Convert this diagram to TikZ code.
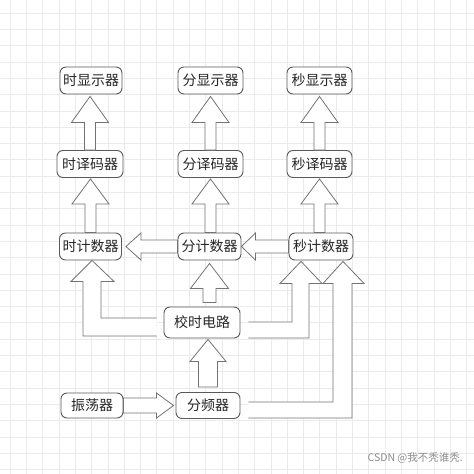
\documentclass[tikz,border=0pt]{standalone}
\usepackage{fontspec}
\setmainfont{Noto Sans CJK SC}
\usetikzlibrary{calc}
\tikzset{
  box/.style={draw=black!65, line width=0.9pt, rounded corners=6pt, fill=white,
    inner sep=0pt, text=black!85, font=\fontsize{14}{16}\selectfont},
  blk/.style={draw=black!55, line width=0.8pt, fill=white, line join=miter},
  gridline/.style={draw=black!8, line width=0.6pt},
}
% #1 x source, #2 tail, #3 tip, #4 tail gap, #5 tip gap, #6 shaft half, #7 head half, #8 head length
\newcommand\blkup[8]{%
  \draw[blk] let \p0=(#1),\p1=(#2),\p2=(#3) in
    (\x0-#6,\y1+#4) -- (\x0-#6,\y2-#5-#8) -- (\x0-#7,\y2-#5-#8) -- (\x0,\y2-#5)
    -- (\x0+#7,\y2-#5-#8) -- (\x0+#6,\y2-#5-#8) -- (\x0+#6,\y1+#4) -- cycle;}
% #1 tail, #2 tip, #3 tail gap, #4 tip gap, #5 shaft half, #6 head half, #7 head length
\newcommand\blkleft[7]{%
  \draw[blk] let \p1=(#1),\p2=(#2) in
    (\x1-#3,\y1+#5) -- (\x2+#4+#7,\y1+#5) -- (\x2+#4+#7,\y1+#6) -- (\x2+#4,\y1)
    -- (\x2+#4+#7,\y1-#6) -- (\x2+#4+#7,\y1-#5) -- (\x1-#3,\y1-#5) -- cycle;}
\newcommand\blkright[7]{%
  \draw[blk] let \p1=(#1),\p2=(#2) in
    (\x1+#3,\y1+#5) -- (\x2-#4-#7,\y1+#5) -- (\x2-#4-#7,\y1+#6) -- (\x2-#4,\y1)
    -- (\x2-#4-#7,\y1-#6) -- (\x2-#4-#7,\y1-#5) -- (\x1+#3,\y1-#5) -- cycle;}
\begin{document}
\begin{tikzpicture}[x=1pt,y=-1pt]
\useasboundingbox (0,0) rectangle (474,474);
\fill[white] (0,0) rectangle (474,474);
% grid
\foreach \k in {0,...,28} {
  \draw[gridline] ({10+16.3*\k},0) -- ({10+16.3*\k},474);
  \draw[gridline] (0,{13+16.3*\k}) -- (474,{13+16.3*\k});
}
% nodes
\node[box, minimum width=62pt, minimum height=27pt] (h3) at (91,80.5) {时显示器};
\node[box, minimum width=65pt, minimum height=27pt] (m3) at (210.5,80.5) {分显示器};
\node[box, minimum width=65pt, minimum height=27pt] (s3) at (319.5,80.5) {秒显示器};
\node[box, minimum width=66pt, minimum height=27pt] (h2) at (90,164) {时译码器};
\node[box, minimum width=65pt, minimum height=27pt] (m2) at (210.5,164) {分译码器};
\node[box, minimum width=65pt, minimum height=27pt] (s2) at (319.5,164) {秒译码器};
\node[box, minimum width=62pt, minimum height=27pt] (h1) at (90.5,246.5) {时计数器};
\node[box, minimum width=63pt, minimum height=27pt] (m1) at (209.5,246.5) {分计数器};
\node[box, minimum width=64pt, minimum height=27pt] (s1) at (321,246.5) {秒计数器};
\node[box, minimum width=76pt, minimum height=31pt] (jx) at (202,322.5) {校时电路};
\node[box, minimum width=62pt, minimum height=25pt] (zd) at (92,405.5) {振荡器};
\node[box, minimum width=64pt, minimum height=26pt] (fp) at (208,405.5) {分频器};
% column arrows
\blkup{h2.north}{h2.north}{h3.south}{0pt}{2pt}{5.5pt}{18.5pt}{26pt}
\blkup{h1.north}{h1.north}{h2.south}{0pt}{1pt}{5.5pt}{18.5pt}{25pt}
\blkup{m2.north}{m2.north}{m3.south}{0pt}{2pt}{5.5pt}{18.5pt}{26pt}
\blkup{m2.north}{m1.north}{m2.south}{0pt}{1pt}{5.5pt}{18.5pt}{25pt}
\blkup{s2.north}{s2.north}{s3.south}{0pt}{2pt}{5.5pt}{18.5pt}{26pt}
\blkup{s2.north}{s1.north}{s2.south}{0pt}{1pt}{5.5pt}{18.5pt}{25pt}
% centre arrows
\blkup{m1.south}{jx.north}{m1.south}{4pt}{3pt}{6.5pt}{19pt}{25pt}
\blkup{fp.north}{fp.north}{jx.south}{5pt}{1pt}{9.5pt}{18pt}{22pt}
% horizontal arrows
\blkleft{s1.west}{m1.east}{0pt}{0pt}{6.5pt}{13.5pt}{14pt}
\blkleft{m1.west}{h1.east}{0pt}{4pt}{6.5pt}{13.5pt}{15pt}
\blkright{zd.east}{fp.west}{0pt}{2pt}{7.5pt}{12.5pt}{17pt}
% bent arrows
\draw[blk] let \p1=(jx.west),\p2=(h1.south) in
  (\x1-7pt,\y1+4.5pt) -- (\x2+10.5pt,\y1+4.5pt) -- (\x2+10.5pt,\y2-21pt)
  -- (\x2+23.5pt,\y2-21pt) -- (\x2+1.5pt,\y2) -- (\x2-19.5pt,\y2-21pt)
  -- (\x2-7.5pt,\y2-21pt) -- (\x2-7.5pt,\y1-13.5pt) -- (\x1-7pt,\y1-13.5pt);
\draw[blk] let \p1=(jx.east),\p2=(s1.south) in
  (\x1+8pt,\y1+0.5pt) -- (\x2-29pt,\y1+0.5pt) -- (\x2-29pt,\y2-23pt)
  -- (\x2-41pt,\y2-23pt) -- (\x2-20pt,\y2-1pt) -- (\x2+1pt,\y2-23pt)
  -- (\x2-12pt,\y2-23pt) -- (\x2-12pt,\y1-15.5pt) -- (\x1+8pt,\y1-15.5pt);
\draw[blk] let \p1=(fp.east),\p2=(s1.south) in
  (\x1+8pt,\y1+3.5pt) -- (\x2+12pt,\y1+3.5pt) -- (\x2+12pt,\y2-23pt)
  -- (\x2+2pt,\y2-23pt) -- (\x2+22pt,\y2-1pt) -- (\x2+43pt,\y2-23pt)
  -- (\x2+31pt,\y2-23pt) -- (\x2+31pt,\y1-12.5pt) -- (\x1+8pt,\y1-12.5pt);
% watermark
\node[anchor=east, inner sep=0pt, text=black!45, font=\fontsize{10.5}{12}\selectfont] (wm) at (463,458) {CSDN @我不秃谁秃.};
\end{tikzpicture}
\end{document}
